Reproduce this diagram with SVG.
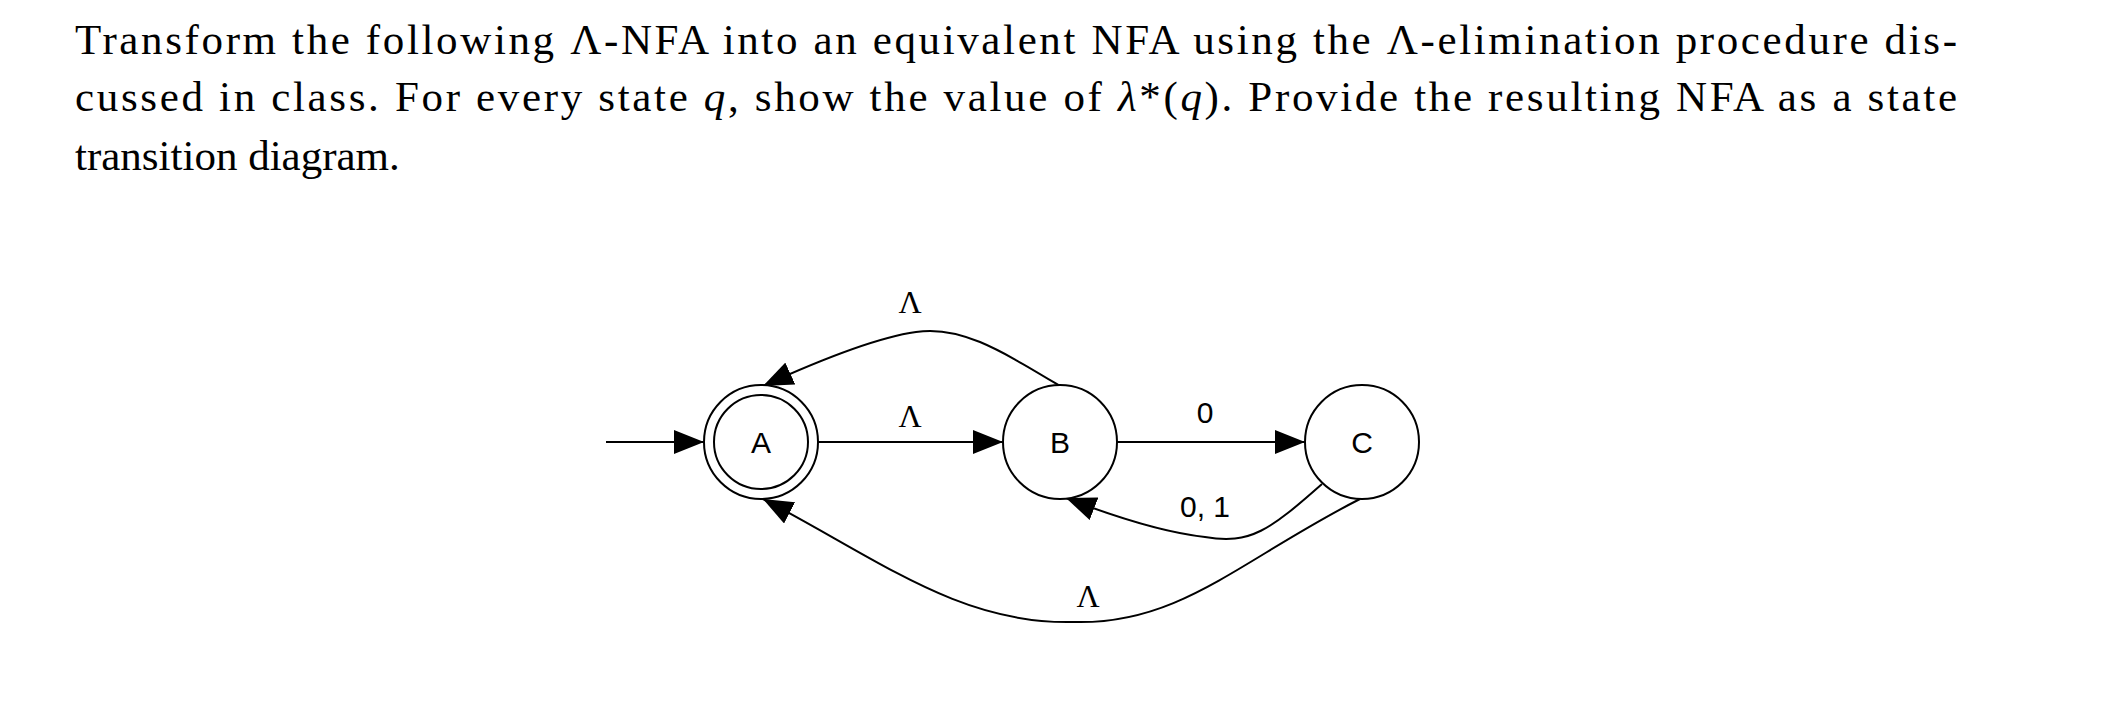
<svg xmlns="http://www.w3.org/2000/svg" width="2128" height="706" viewBox="0 0 2128 706">
<style>
.p{font-family:"Liberation Serif","Times New Roman",serif;font-size:43px;fill:#000}
.n{font-family:"Liberation Sans",Arial,sans-serif;font-size:30px;fill:#000;text-anchor:middle}
.l{font-family:"Liberation Serif",serif;font-size:32px;fill:#000;text-anchor:middle}
.s{fill:#fff;stroke:#000;stroke-width:2}
.e{fill:none;stroke:#000;stroke-width:2;marker-end:url(#ah)}
</style>
<defs>
<marker id="ah" markerUnits="userSpaceOnUse" markerWidth="32" markerHeight="24" refX="30" refY="12" orient="auto">
<path d="M0,0 L30,12 L0,24 Z" fill="#000"/>
</marker>
</defs>
<rect width="2128" height="706" fill="#fff"/>
<text class="p" x="75" y="54" textLength="1882" lengthAdjust="spacing">Transform the following Λ-NFA into an equivalent NFA using the Λ-elimination procedure dis-</text>
<text class="p" x="75" y="111" textLength="1882" lengthAdjust="spacing">cussed in class. For every state <tspan font-style="italic">q</tspan>, show the value of <tspan font-style="italic">λ</tspan>*(<tspan font-style="italic">q</tspan>). Provide the resulting NFA as a state</text>
<text class="p" x="75" y="170">transition diagram.</text>
<g id="edges">
<path class="e" d="M606,442 L704,442"/>
<path class="e" d="M818,442 L1003,442"/>
<path class="e" d="M1117,442 L1305,442"/>
<path class="e" d="M1060,386 C1000,350 960,325 916,332 C880,337 820,360 763,386"/>
<path class="e" d="M1322,484 C1270,530 1250,545 1205,537 C1160,532 1110,515 1066,498"/>
<path class="e" d="M1360,499 C1240,560 1180,625 1074,622 C960,625 880,560 763,499"/>
</g>
<g id="labels">
<text class="l" x="910" y="427">Λ</text>
<text class="n" x="1205" y="423">0</text>
<text class="l" x="910" y="313">Λ</text>
<text class="n" x="1205" y="517">0, 1</text>
<text class="l" x="1088" y="607">Λ</text>
</g>
<g id="A"><circle class="s" cx="761" cy="442" r="57"/><circle class="s" cx="761" cy="442" r="47"/><text class="n" x="761" y="453">A</text></g>
<g id="B"><circle class="s" cx="1060" cy="442" r="57"/><text class="n" x="1060" y="453">B</text></g>
<g id="C"><circle class="s" cx="1362" cy="442" r="57"/><text class="n" x="1362" y="453">C</text></g>
</svg>
